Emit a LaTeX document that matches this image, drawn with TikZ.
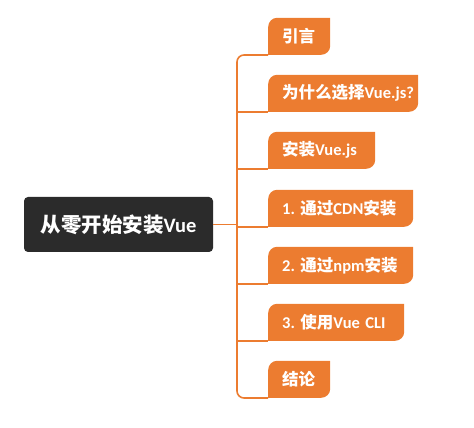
\documentclass[tikz,border=0pt]{standalone}
\usepackage{fontspec}
\setmainfont{Carlito}
\newfontfamily\cjk{Noto Sans CJK SC}
\newcommand{\zh}[1]{{\cjk #1}}
\frenchspacing
\definecolor{brand}{HTML}{EC7C30}
\definecolor{rootfill}{HTML}{2B2B2B}
\tikzset{
  leaf/.style={anchor=south west, text=white, font=\bfseries\fontsize{16.5}{20}\selectfont,
    inner xsep=14pt, inner ysep=0pt, minimum height=37pt, align=left, text width=#1-28pt,
    path picture={\fill[brand] (path picture bounding box.south west)
      -- ([yshift=-9pt]path picture bounding box.north west)
      arc[start angle=180,end angle=90,radius=9pt]
      -- (path picture bounding box.north east)
      -- ([yshift=9pt]path picture bounding box.south east)
      arc[start angle=0,end angle=-90,radius=9pt] -- cycle;}},
  rootbox/.style={fill=rootfill, rounded corners=4pt, text=white,
    font=\bfseries\fontsize{20.5}{24}\selectfont, minimum width=189pt, minimum height=55pt},
  conn/.style={draw=brand, line width=1.6pt, rounded corners=7pt}
}
\begin{document}
\begin{tikzpicture}[x=1pt,y=1pt]
\useasboundingbox (0,0) rectangle (474,428);
\coordinate (spine) at (237,0);
\node[rootbox] (root) at (118.5,203.5) {\zh{从零开始安装}Vue};
\node[leaf=62pt] (b1) at (268,373) {\mbox{\zh{引言}}};
\node[leaf=150pt] (b2) at (268,316) {\mbox{\zh{为什么选择}Vue.js?}};
\node[leaf=107pt] (b3) at (268,259) {\mbox{\zh{安装}Vue.js}};
\node[leaf=145pt] (b4) at (268,201) {\mbox{1. \zh{通过}CDN\zh{安装}}};
\node[leaf=145pt] (b5) at (268,144) {\mbox{2. \zh{通过}npm\zh{安装}}};
\node[leaf=136pt] (b6) at (268,87) {\mbox{3. \zh{使用}Vue CLI}};
\node[leaf=62pt] (b7) at (268,30) {\mbox{\zh{结论}}};
\draw[conn] (b1.south west) -- (b1.south west -| spine) -- (b7.south west -| spine) -- (b7.south west);
\foreach \n in {b2,b3,b4,b5,b6}{\draw[conn] (\n.south west -| spine) -- (\n.south west);}
\draw[conn] (root.east) -- (root.east -| spine);
\end{tikzpicture}
\end{document}
